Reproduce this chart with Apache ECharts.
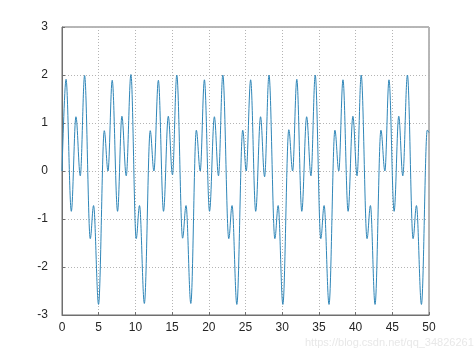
<!DOCTYPE html>
<html>
<head>
<meta charset="utf-8">
<script src="https://cdn.jsdelivr.net/npm/echarts@6/dist/echarts.min.js"></script>
<style>html,body{margin:0;padding:0;background:#fff;}#c{width:474px;height:355px;}</style>
</head>
<body>
<div id="c"></div>
<script>
// Local extrema (x, y)
const xs = [
  0, 0.55, 1.27, 1.9, 2.49, 3.08, 3.85, 4.3, 4.98, 5.76,
  6.27, 6.84, 7.57, 8.16, 8.75, 9.39, 10.11, 10.56, 11.22, 12.02,
  12.52, 13.13, 13.83, 14.48, 15.05, 15.64, 16.43, 16.9, 17.55, 18.3,
  18.83, 19.4, 20.1, 20.76, 21.32, 21.91, 22.72, 23.17, 23.82, 24.62,
  25.1, 25.7, 26.39, 27.05, 27.6, 28.2, 29.0, 29.45, 30.09, 30.9,
  31.42, 31.99, 32.67, 33.33, 33.92, 34.5, 35.26, 35.71, 36.38, 37.18,
  37.71, 38.28, 38.98, 39.63, 40.2, 40.76, 41.56, 42.02, 42.65, 43.45,
  43.99, 44.55, 45.25, 45.88, 46.43, 47.06, 47.83, 48.29, 48.97, 49.76,
  50
];
const ys = [
  0, 1.91, -0.84, 1.13, -0.10, 1.99, -1.41, -0.72, -2.78, 0.84,
  0, 1.89, -0.84, 1.14, -0.10, 2.01, -1.41, -0.72, -2.76, 0.84,
  0, 1.89, -0.84, 1.14, -0.08, 2.0, -1.40, -0.72, -2.76, 0.85,
  0, 1.9, -0.84, 1.13, -0.10, 2.0, -1.41, -0.72, -2.78, 0.85,
  0, 1.9, -0.84, 1.13, -0.12, 2.0, -1.41, -0.72, -2.78, 0.86,
  0, 1.91, -0.84, 1.13, -0.10, 2.0, -1.41, -0.72, -2.78, 0.85,
  0, 1.9, -0.84, 1.14, -0.10, 2.0, -1.41, -0.72, -2.78, 0.85,
  0, 1.9, -0.84, 1.14, -0.10, 2.0, -1.41, -0.72, -2.78, 0.85,
  0.8
];
const xTicks = [0, 5, 10, 15, 20, 25, 30, 35, 40, 45, 50];
const yTicks = [-3, -2, -1, 0, 1, 2, 3];
const watermark = 'https://blog.csdn.net/qq_34826261';

const data = xs.map((x, i) => [x, ys[i]]);
const chart = echarts.init(document.getElementById('c'), null, {renderer: 'canvas'});
const font = 'Liberation Sans, Arial, sans-serif';
const gridLine = {show: true, lineStyle: {color: '#b4b4b4', width: 1, type: [1, 2]}};
chart.setOption({
  animation: false,
  backgroundColor: '#ffffff',
  grid: {left: 62, right: 45, top: 27, bottom: 40, show: true, borderColor: '#6f6f6f', borderWidth: 1, backgroundColor: 'transparent'},
  xAxis: {
    type: 'value', min: xTicks[0], max: xTicks[xTicks.length - 1], interval: 5,
    axisLine: {show: true, onZero: false, lineStyle: {color: '#6f6f6f'}},
    axisTick: {show: true, inside: true, length: 3, lineStyle: {color: '#6f6f6f'}},
    axisLabel: {color: '#262626', fontSize: 12, fontFamily: font, margin: 7},
    splitLine: gridLine
  },
  yAxis: {
    type: 'value', min: yTicks[0], max: yTicks[yTicks.length - 1], interval: 1,
    axisLine: {show: true, onZero: false, lineStyle: {color: '#6f6f6f'}},
    axisTick: {show: true, inside: true, length: 3, lineStyle: {color: '#6f6f6f'}},
    axisLabel: {color: '#262626', fontSize: 12, fontFamily: font, margin: 14},
    splitLine: gridLine
  },
  series: [{
    type: 'line', data: data, showSymbol: false, symbol: 'none',
    smooth: 0.36, smoothMonotone: 'x',
    lineStyle: {color: '#2f86b8', width: 1},
    clip: true
  }],
  graphic: [{
    type: 'text', left: 305, top: 337,
    style: {text: watermark, fill: '#e8e8e8', fontSize: 11, fontFamily: font}
  }]
});
</script>
</body>
</html>
